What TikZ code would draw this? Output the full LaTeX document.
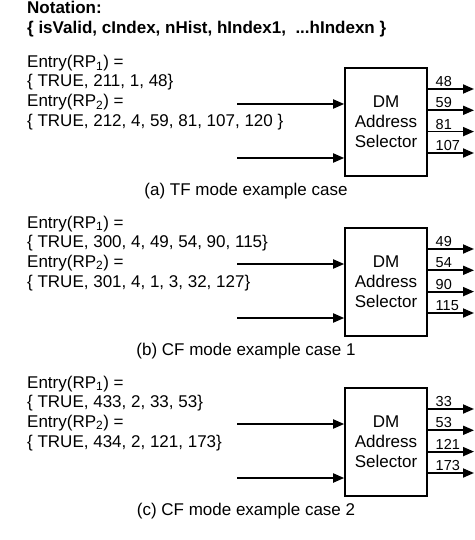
\documentclass[tikz,border=0pt]{standalone}
\usepackage{fontspec}
\setmainfont{Liberation Sans}
\usetikzlibrary{arrows.meta}
\begin{document}
\begin{tikzpicture}[x=1pt,y=-1pt,
  txt/.style={anchor=base west,inner sep=0pt,font=\fontsize{17}{20}\selectfont},
  notation/.style={anchor=base west,inner sep=0pt,font=\fontsize{17}{20}\selectfont\bfseries},
  caption/.style={anchor=base,inner sep=0pt,font=\fontsize{17}{20}\selectfont},
  selbox/.style={draw,line width=1.6pt,minimum width=82pt,minimum height=108pt,inner sep=0pt,align=center,font=\fontsize{17}{20}\selectfont},
  outlbl/.style={anchor=base west,inner sep=0pt,font=\fontsize{14.5}{15}\selectfont},
  arr/.style={line width=1.8pt,-{Triangle[length=11pt,width=9pt]}}]
\useasboundingbox (0,0) rectangle (474,540);
\newcommand{\sbs}[1]{\textsubscript{\fontsize{12}{12}\selectfont #1}}
\node[notation] (nt1) at (27,13.5) {Notation:};
\node[notation] (nt2) at (27,33.5) {\{ isValid, cIndex, nHist, hIndex1,\ \ ...hIndexn \}};
% panel a
\def\T{68}
\node[txt] (a1) at (27,\T) {Entry(RP\sbs{1}) =};
\node[txt] (a2) at (27,\T+19) {\{ TRUE, 211, 1, 48\}};
\node[txt] (a3) at (27,\T+39) {Entry(RP\sbs{2}) =};
\node[txt] (a4) at (27,\T+59) {\{ TRUE, 212, 4, 59, 81, 107, 120 \}};
\node[selbox] (boxa) at (386,\T+54) {DM\\Address\\Selector};
\coordinate (ia1) at (237,\T+36);
\coordinate (ia2) at (237,\T+90);
\draw[arr] (ia1) -- (ia1 -| boxa.west);
\draw[arr] (ia2) -- (ia2 -| boxa.west);
\coordinate (oa1) at (474,\T+21);
\coordinate (oa2) at (474,\T+42.3);
\coordinate (oa3) at (474,\T+63.6);
\coordinate (oa4) at (474,\T+85);
\draw[arr] (oa1 -| boxa.east) -- (oa1);
\draw[arr] (oa2 -| boxa.east) -- (oa2);
\draw[arr] (oa3 -| boxa.east) -- (oa3);
\draw[arr] (oa4 -| boxa.east) -- (oa4);
\node[outlbl] (la1) at (435.5,\T+18.5) {48};
\node[outlbl] (la2) at (435.5,\T+39.8) {59};
\node[outlbl] (la3) at (435.5,\T+61.1) {81};
\node[outlbl] (la4) at (435.5,\T+82.5) {107};
\node[caption] (capa) at (246,\T+127) {(a) TF mode example case};
% panel b
\def\T{228}
\node[txt] (b1) at (27,\T) {Entry(RP\sbs{1}) =};
\node[txt] (b2) at (27,\T+19) {\{ TRUE, 300, 4, 49, 54, 90, 115\}};
\node[txt] (b3) at (27,\T+39) {Entry(RP\sbs{2}) =};
\node[txt] (b4) at (27,\T+59) {\{ TRUE, 301, 4, 1, 3, 32, 127\}};
\node[selbox] (boxb) at (386,\T+54) {DM\\Address\\Selector};
\coordinate (ib1) at (237,\T+36);
\coordinate (ib2) at (237,\T+90);
\draw[arr] (ib1) -- (ib1 -| boxb.west);
\draw[arr] (ib2) -- (ib2 -| boxb.west);
\coordinate (ob1) at (474,\T+21);
\coordinate (ob2) at (474,\T+42.3);
\coordinate (ob3) at (474,\T+63.6);
\coordinate (ob4) at (474,\T+85);
\draw[arr] (ob1 -| boxb.east) -- (ob1);
\draw[arr] (ob2 -| boxb.east) -- (ob2);
\draw[arr] (ob3 -| boxb.east) -- (ob3);
\draw[arr] (ob4 -| boxb.east) -- (ob4);
\node[outlbl] (lb1) at (435.5,\T+18.5) {49};
\node[outlbl] (lb2) at (435.5,\T+39.8) {54};
\node[outlbl] (lb3) at (435.5,\T+61.1) {90};
\node[outlbl] (lb4) at (435.5,\T+82.5) {115};
\node[caption] (capb) at (246,\T+127) {(b) CF mode example case 1};
% panel c
\def\T{388}
\node[txt] (c1) at (27,\T) {Entry(RP\sbs{1}) =};
\node[txt] (c2) at (27,\T+19) {\{ TRUE, 433, 2, 33, 53\}};
\node[txt] (c3) at (27,\T+39) {Entry(RP\sbs{2}) =};
\node[txt] (c4) at (27,\T+59) {\{ TRUE, 434, 2, 121, 173\}};
\node[selbox] (boxc) at (386,\T+54) {DM\\Address\\Selector};
\coordinate (ic1) at (237,\T+36);
\coordinate (ic2) at (237,\T+90);
\draw[arr] (ic1) -- (ic1 -| boxc.west);
\draw[arr] (ic2) -- (ic2 -| boxc.west);
\coordinate (oc1) at (474,\T+21);
\coordinate (oc2) at (474,\T+42.3);
\coordinate (oc3) at (474,\T+63.6);
\coordinate (oc4) at (474,\T+85);
\draw[arr] (oc1 -| boxc.east) -- (oc1);
\draw[arr] (oc2 -| boxc.east) -- (oc2);
\draw[arr] (oc3 -| boxc.east) -- (oc3);
\draw[arr] (oc4 -| boxc.east) -- (oc4);
\node[outlbl] (lc1) at (435.5,\T+18.5) {33};
\node[outlbl] (lc2) at (435.5,\T+39.8) {53};
\node[outlbl] (lc3) at (435.5,\T+61.1) {121};
\node[outlbl] (lc4) at (435.5,\T+82.5) {173};
\node[caption] (capc) at (246,\T+127) {(c) CF mode example case 2};
\end{tikzpicture}
\end{document}
